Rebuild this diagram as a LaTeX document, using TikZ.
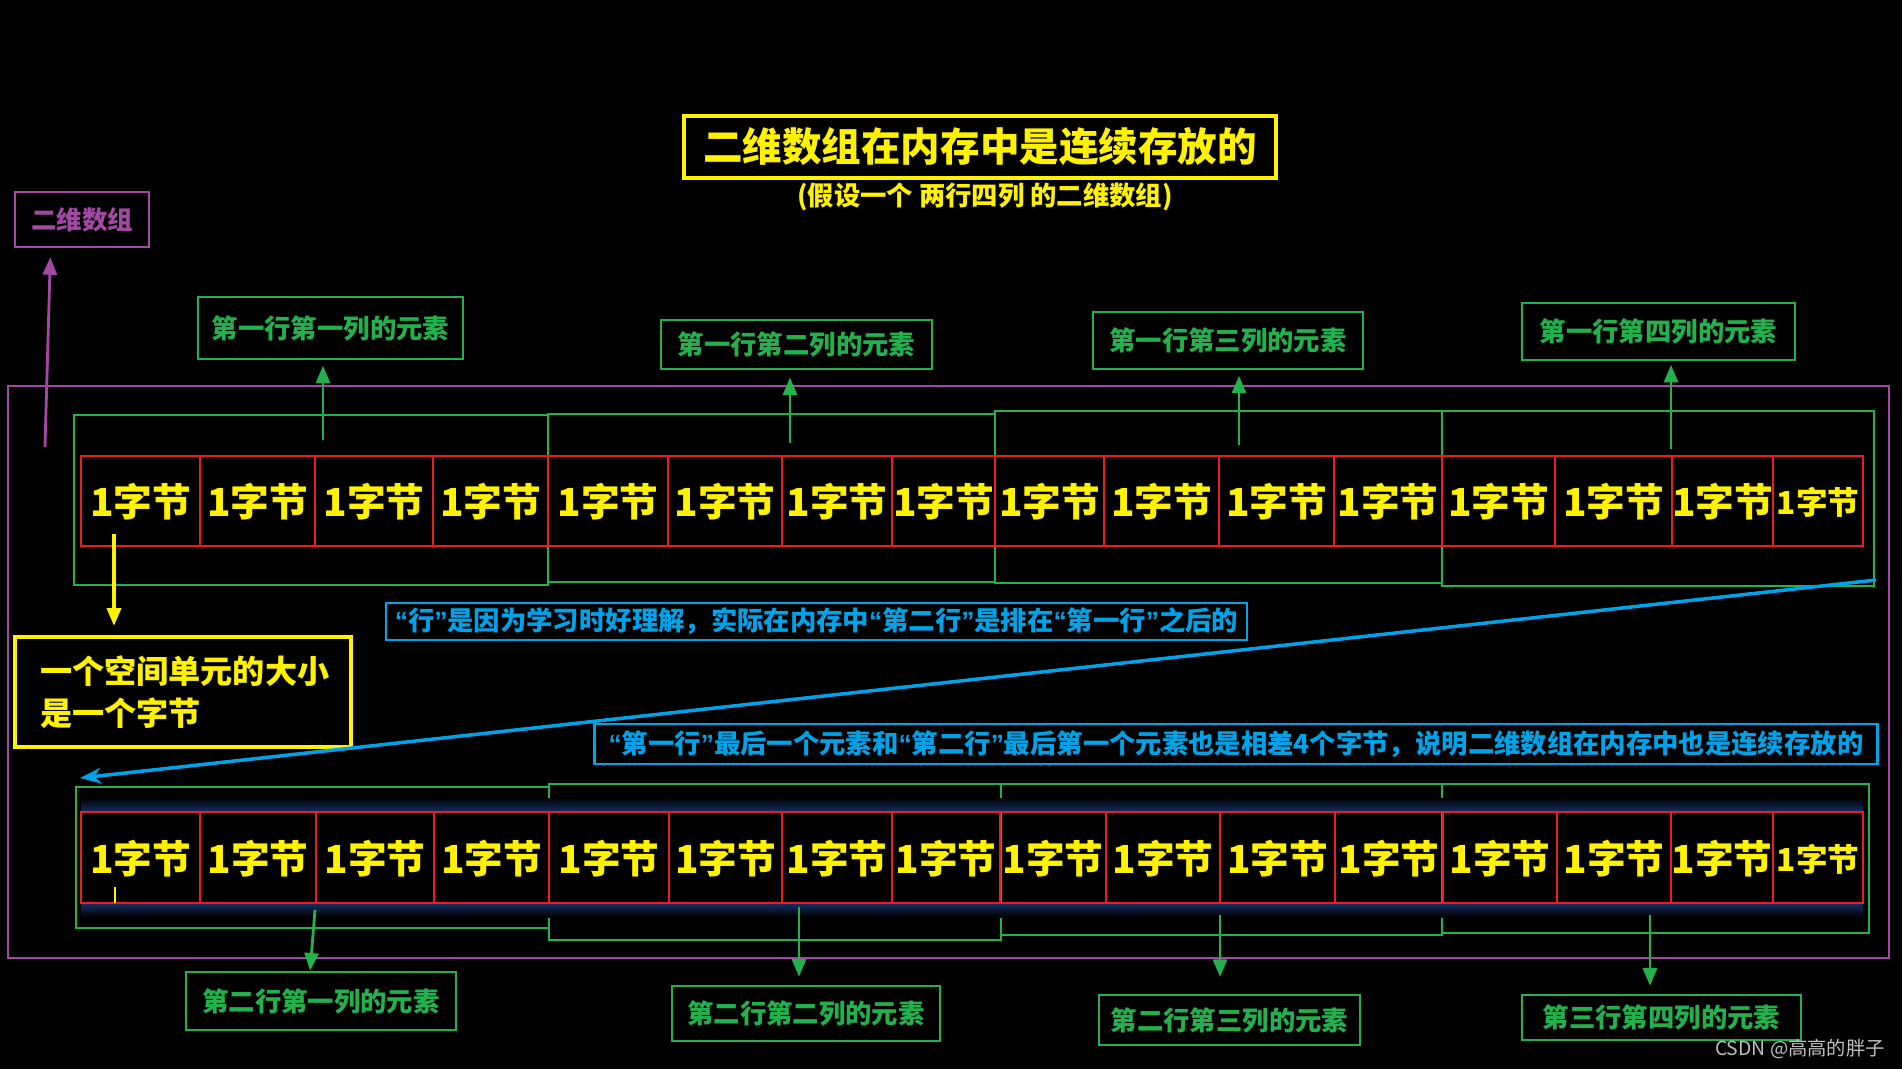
\documentclass[tikz,border=0pt]{standalone}
\usepackage{fontspec}
\setmainfont{Noto Sans CJK SC}[BoldFont={Noto Sans CJK SC Black}]
\newfontfamily\qfont{Liberation Sans}
\newcommand\myoq{{\qfont\bfseries “}}
\newcommand\mycq{{\qfont\bfseries ”}}
\usetikzlibrary{arrows.meta,calc}
\definecolor{pyel}{RGB}{255,242,0}
\definecolor{pgrn}{RGB}{34,177,76}
\definecolor{pmag}{RGB}{163,73,164}
\definecolor{pred}{RGB}{237,28,36}
\definecolor{pblu}{RGB}{0,162,232}
\definecolor{glow}{RGB}{20,45,95}
\begin{document}
\begin{tikzpicture}[x=0.02cm,y=-0.02cm,
  glab/.style={draw=pgrn, line width=1.6pt, text=pgrn, inner sep=0pt, font=\bfseries\fontsize{15}{18}\selectfont},
  gbox/.style={draw=pgrn, line width=1.6pt},
  redl/.style={draw=pred, line width=1.3pt},
  cellt/.style={text=pyel, inner sep=0pt, font=\bfseries\fontsize{22}{26}\selectfont},
  cellsm/.style={text=pyel, inner sep=0pt, font=\bfseries\fontsize{18}{22}\selectfont},
  garrow/.style={draw=pgrn, line width=1.6pt, -{Triangle[length=10pt,width=8pt]}},
  bbox/.style={draw=pblu, line width=1.6pt, text=pblu, inner sep=0pt, font=\bfseries\fontsize{15}{18}\selectfont},
]
\fill[black] (0,0) rectangle (1902,1069);
\useasboundingbox (0,0) rectangle (1902,1069);

% title
\node[draw=pyel, line width=1.8pt, text=pyel, inner sep=0pt, minimum width=11.84cm, minimum height=1.24cm,
  font=\bfseries\fontsize{22.5}{26}\selectfont] (title) at (980,147) {二维数组在内存中是连续存放的};
\node[text=pyel, inner sep=0pt, font=\bfseries\fontsize{15}{18}\selectfont] (sub) at (985,197) {(假设一个 两行四列 的二维数组)};

% 2D array label
\node[draw=pmag, line width=1.6pt, text=pmag, inner sep=0pt, minimum width=2.68cm, minimum height=1.1cm,
  font=\bfseries\fontsize{14.5}{17}\selectfont] (arr) at (82,219.5) {二维数组};
\draw[pmag, line width=1.5pt] (8,386) rectangle (1889,958);
\coordinate (m0) at (45,447);
\draw[draw=pmag, line width=1.6pt, -{Triangle[length=10pt,width=8pt]}, shorten >=5pt] (m0) -- ($(arr.south west)!0.27!(arr.south east)$);

% top labels
\node[glab, minimum width=5.3cm, minimum height=1.24cm] (l11) at (330.5,328) {第一行第一列的元素};
\node[glab, minimum width=5.42cm, minimum height=0.98cm] (l12) at (796.5,344.5) {第一行第二列的元素};
\node[glab, minimum width=5.4cm, minimum height=1.14cm] (l13) at (1228,340.5) {第一行第三列的元素};
\node[glab, minimum width=5.46cm, minimum height=1.14cm] (l14) at (1658.5,331.5) {第一行第四列的元素};

% top group boxes
\draw[gbox] (74,415) rectangle (548,585);
\draw[gbox] (548,414) rectangle (995,582);
\draw[gbox] (995,411) rectangle (1442,583);
\draw[gbox] (1442,411) rectangle (1874,586);

% top red row
\draw[redl] (81,456) rectangle (1863,546);
\foreach \x in {200,315,433,548,668,782,892,995,1104,1219,1334,1442,1555,1672,1773}
  \draw[redl] (\x,456) -- (\x,546);
\foreach \a/\b [count=\i] in {81/200,200/315,315/433,433/548,548/668,668/782,782/892,892/995,995/1104,1104/1219,1219/1334,1334/1442,1442/1555,1555/1672,1672/1773}
  \node[cellt] (t\i) at ({(\a+\b)/2},502) {1字节};
\node[cellsm] (t16) at (1818,502) {1字节};

% top arrows
\coordinate (s11) at (323,440);
\coordinate (s12) at (790,443);
\coordinate (s13) at (1239,445);
\coordinate (s14) at (1671,449);
\draw[garrow, shorten >=3pt] (s11) -- (s11 |- l11.south);
\draw[garrow, shorten >=4pt] (s12) -- (s12 |- l12.south);
\draw[garrow, shorten >=3pt] (s13) -- (s13 |- l13.south);
\draw[garrow, shorten >=2pt] (s14) -- (s14 |- l14.south);

% yellow note
\node[draw=pyel, line width=1.8pt, text=pyel, minimum width=6.72cm, minimum height=2.2cm, inner xsep=0.5cm,
  text width=5.72cm, align=left, font=\bfseries\fontsize{18.3}{23.5}\selectfont] (yb) at (183,692)
  {一个空间单元的大小\\是一个字节};
\coordinate (s0) at (114,534);
\draw[draw=pyel, line width=1.8pt, -{Triangle[length=10pt,width=8pt]}, shorten >=5.5pt] (s0) -- (s0 |- yb.north);

% blue notes
\node[bbox, minimum width=17.22cm, minimum height=0.74cm] (n1) at (816.5,621.5)
  {\myoq 行\mycq 是因为学习时好理解，实际在内存中\myoq 第二行\mycq 是排在\myoq 第一行\mycq 之后的};
\node[bbox, minimum width=25.68cm, minimum height=0.8cm] (n2) at (1236,744)
  {\myoq 第一行\mycq 最后一个元素和\myoq 第二行\mycq 最后第一个元素也是相差4个字节，说明二维数组在内存中也是连续存放的};
\coordinate (bl0) at (1876,580);
\coordinate (bl1) at (80,778);
\draw[draw=pblu, line width=2pt, -{Stealth[length=12pt,width=9pt]}] (bl0) -- (bl1);

% bottom group boxes
\draw[gbox] (76,787) rectangle (549,928);
\draw[gbox] (549,784) rectangle (1001,940);
\draw[gbox] (1001,784) rectangle (1442,935);
\draw[gbox] (1442,784) rectangle (1869,933);

% glow
\shade[top color=black, bottom color=glow] (81,798) rectangle (1863,811);
\shade[top color=glow, bottom color=black] (81,904) rectangle (1863,917);

% bottom red row
\draw[redl] (81,812) rectangle (1863,903);
\foreach \x in {200,316,434,549,669,782,892,1000,1106,1220,1335,1443,1557,1671,1773}
  \draw[redl] (\x,812) -- (\x,903);
\foreach \a/\b [count=\i] in {81/200,200/316,316/434,434/549,549/669,669/782,782/892,892/1000,1000/1106,1106/1220,1220/1335,1335/1443,1443/1557,1557/1671,1671/1773}
  \node[cellt] (u\i) at ({(\a+\b)/2},859) {1字节};
\node[cellsm] (u16) at (1818,859) {1字节};
\draw[pyel, line width=1.2pt] (115,887) -- (115,903);

% bottom labels
\node[glab, minimum width=5.4cm, minimum height=1.16cm] (l21) at (321,1001) {第二行第一列的元素};
\node[glab, minimum width=5.36cm, minimum height=1.1cm] (l22) at (806,1013.5) {第二行第二列的元素};
\node[glab, minimum width=5.22cm, minimum height=1.0cm] (l23) at (1229.5,1020) {第二行第三列的元素};
\node[glab, minimum width=5.58cm, minimum height=0.9cm] (l24) at (1661.5,1017.5) {第三行第四列的元素};

% bottom arrows
\coordinate (s21) at (315,910);
\coordinate (s22) at (799,907);
\coordinate (s23) at (1220,915);
\coordinate (s24) at (1650,915);
\draw[garrow] (s21) -- ($(l21.north west)!0.46!(l21.north east)$);
\draw[garrow, shorten >=4.5pt] (s22) -- (s22 |- l22.north);
\draw[garrow, shorten >=9.5pt] (s23) -- (s23 |- l23.north);
\draw[garrow, shorten >=4.5pt] (s24) -- (s24 |- l24.north);

% watermark
\node[text=black!25, inner sep=0pt, font=\fontsize{11}{13}\selectfont] (wm) at (1800,1049) {CSDN @高高的胖子};
\end{tikzpicture}
\end{document}
